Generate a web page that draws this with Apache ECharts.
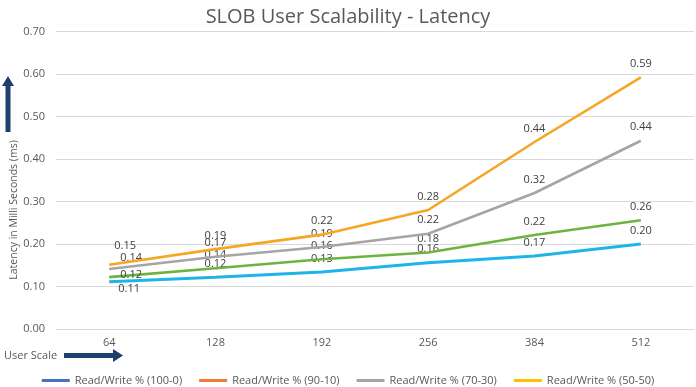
<!DOCTYPE html>
<html><head><meta charset="utf-8">
<script src="https://cdn.jsdelivr.net/npm/echarts@6/dist/echarts.min.js"></script>
<style>html,body{margin:0;padding:0;background:#fff}#c{width:696px;height:387px}</style>
</head><body><div id="c"></div>
<script>
const categories = ['64', '128', '192', '256', '384', '512'];
const seriesNames = ['Read/Write % (100-0)', 'Read/Write % (90-10)', 'Read/Write % (70-30)', 'Read/Write % (50-50)'];
const rw100 = [0.111, 0.122, 0.134, 0.156, 0.172, 0.200];
const rw90 = [0.122, 0.143, 0.164, 0.180, 0.221, 0.256];
const rw70 = [0.141, 0.170, 0.193, 0.224, 0.320, 0.443];
const rw50 = [0.151, 0.188, 0.222, 0.280, 0.440, 0.592];
const yTicks = { min: 0, max: 0.7, interval: 0.1 };

const lineColors = ['#1fb4e8', '#6db33f', '#a5a5a5', '#f5a623'];
const legendColors = ['#4472c4', '#ed7d31', '#a5a5a5', '#ffc000'];
const firstOffsets = [[20, 21], [22, 11], [22, 2], [16, -5]];
const font = '"Open Sans", "Noto Sans", sans-serif';

const chart = echarts.init(document.getElementById('c'));
const datasets = [rw100, rw90, rw70, rw50];
chart.setOption({
  animation: false,
  title: { text: 'SLOB User Scalability - Latency', left: 'center', top: 2,
    textStyle: { fontFamily: font, fontWeight: 'normal', fontSize: 20, color: '#595959' } },
  grid: { left: 56, right: 2, top: 31.5, bottom: 58 },
  legend: {
    top: 370, left: 'center', itemWidth: 28, itemHeight: 3, itemGap: 17, icon: 'rect',
    textStyle: { fontFamily: font, fontSize: 11, color: '#595959' },
    data: seriesNames.map((n, i) => ({ name: n, itemStyle: { color: legendColors[i] } }))
  },
  xAxis: { type: 'category', data: categories, boundaryGap: true,
    axisLine: { lineStyle: { color: '#d9d9d9' } }, axisTick: { show: false },
    axisLabel: { fontFamily: font, fontSize: 11, color: '#595959', margin: 8 } },
  yAxis: { type: 'value', min: yTicks.min, max: yTicks.max, interval: yTicks.interval,
    axisLine: { show: false }, axisTick: { show: false },
    splitLine: { lineStyle: { color: '#d9d9d9', width: 1 } },
    axisLabel: { fontFamily: font, fontSize: 11, color: '#595959', margin: 11, formatter: v => v.toFixed(2) } },
  series: datasets.map((d, i) => ({
    name: seriesNames[i], type: 'line', data: d, symbol: 'circle', symbolSize: 0, showSymbol: true,
    itemStyle: { color: legendColors[i] },
    lineStyle: { color: lineColors[i], width: i === 0 ? 3 : 2.6 },
    label: { show: true, position: 'top', distance: 8, fontFamily: font, fontSize: 11, color: '#404040',
      formatter: p => p.value.toFixed(2) },
    labelLayout: p => p.dataIndex === 0 ? { dx: firstOffsets[i][0], dy: firstOffsets[i][1] } : {},
    z: 2 + i
  })),
  graphic: [
    { type: 'text', x: 14, y: 210, rotation: Math.PI / 2,
      style: { text: 'Latency in Milli Seconds (ms)', font: '10.5px ' + font, fill: '#595959', align: 'center', verticalAlign: 'middle' } },
    { type: 'polygon', shape: { points: [[5.5, 132], [10.5, 132], [10.5, 86], [14, 86], [8, 76], [2, 86], [5.5, 86]] },
      style: { fill: '#1f3f6e' } },
    { type: 'text', left: 4, top: 350, style: { text: 'User Scale', font: '11px ' + font, fill: '#595959' } },
    { type: 'polygon', shape: { points: [[64, 353], [113, 353], [113, 349], [123, 355.5], [113, 362], [113, 358], [64, 358]] },
      style: { fill: '#1f3f6e' } }
  ]
});
</script></body></html>
